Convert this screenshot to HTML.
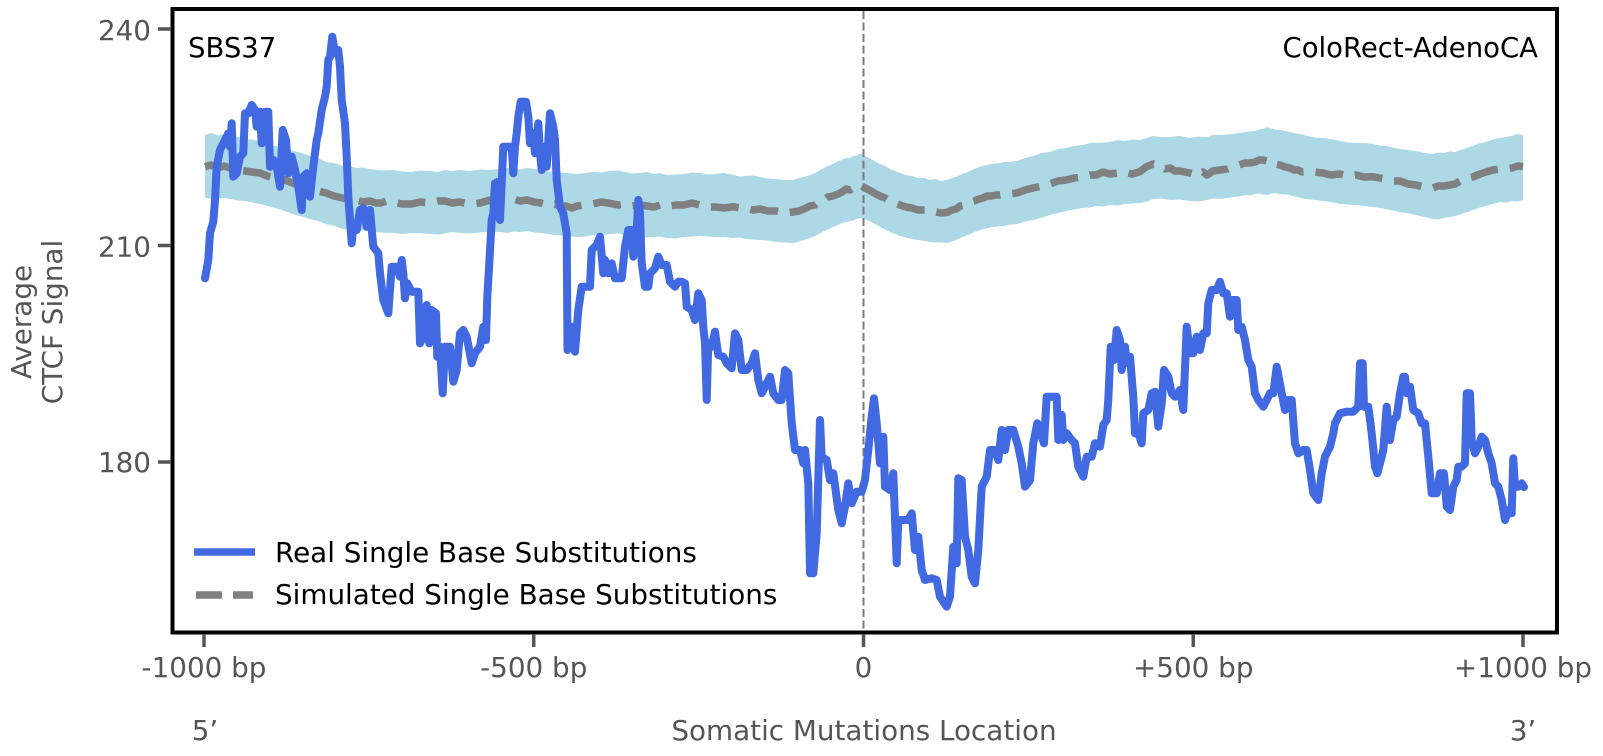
<!DOCTYPE html>
<html><head><meta charset="utf-8"><style>
html,body{margin:0;padding:0;background:#fff;}
svg{display:block;}
text{font-family:"DejaVu Sans","Liberation Sans",sans-serif;}
</style></head><body>
<svg width="1603" height="756" viewBox="0 0 1603 756" xmlns="http://www.w3.org/2000/svg">
<rect x="0" y="0" width="1603" height="756" fill="#fff"/>
<!-- band -->
<polygon fill="#ADD8E6" points="205,134.7 212,133 218,135.5 224,134 230,136 238,137 245,139 252,139.5 260,141 268,143 275,146 282,147 290,150 300,152.5 310,156 318,158 326,162 334,163 343,166 350,166 356,168 363,167.5 370,169 381,170.5 393,170 402,171.5 411,172 420,170.5 430,171 438,172 445,170 452,171 460,170 470,171 480,169.5 490,170 500,169 507,168 514,168 520,169.5 527,168 534,169 541,170 548,171.5 555,172 566,173 577,174 585,173 593,172 601,172.5 610,171 618,170.5 625,172 632,173.5 640,173 647,172 654,174 660,173 667,175 676,174.5 684,174 692,172.5 700,173 708,174.5 716,174 724,173 733,175 740,176.5 746,176 753,175.5 760,177 768,178.5 776,179 785,180 793,180 799,178 804,177 810,175 815,173 820,170 824,168 828,166 833,164 838,161 842,160 846,158 850,158 853,156 856,156 860,153.5 863,155 867,157 871,159 876,162 880,164 885,166 890,169 895,171 900,173 906,175 912,176 918,178 925,178 930,180 936,179 941,181 947,180 952,178 956,177 960,175 965,173 970,171 974,169 979,167 983,166 987,165 991,164 996,163.5 1000,163 1004,162 1008,162 1012,161.5 1017,161 1025,158 1033,156 1042,153 1050,152 1058,149 1066,148 1074,146 1083,145 1090,143 1096,143 1103,142.5 1110,142 1118,140 1125,141 1132,139.5 1140,140 1147,138 1153,136 1161,137 1170,137 1180,136 1190,138 1198,136.5 1207,137 1213,135 1220,135 1227,134.5 1233,134 1239,133 1245,132 1250,131.5 1255,131 1259,129.5 1263,129 1267,127 1270,128 1275,129.5 1280,130 1285,131 1290,132 1294,133 1298,134 1302,134.5 1307,136 1315,137.5 1323,138 1331,139 1340,141 1348,142.5 1356,143 1364,143 1373,144 1380,145.5 1386,146 1393,147.5 1400,149 1408,150 1416,151 1424,153 1433,154 1438,152.5 1444,153 1450,151.5 1455,152 1460,150 1464,149 1468,147.5 1473,146 1480,143 1486,142 1493,139.5 1500,138 1506,137 1512,136 1518,134 1523,135 1523,200 1518,201.5 1512,201 1506,202.5 1500,202 1493,204 1486,206 1480,207.5 1473,210 1468,212 1464,213 1460,214.5 1455,216 1450,217 1444,218 1438,219.5 1433,219 1424,217 1416,215 1408,213.5 1400,212 1393,210.5 1386,209 1380,208 1373,207 1364,206 1356,205 1348,204.5 1340,204 1331,202 1323,201 1315,200 1307,199 1302,198.5 1298,197 1294,196.5 1290,195 1285,194.5 1280,194 1275,193 1270,194 1267,195 1263,194.5 1259,193.5 1255,194 1250,195.5 1245,195 1239,196.5 1233,197 1227,198 1220,199 1213,198.5 1207,200 1198,201.5 1190,201 1180,199.5 1170,200 1161,198.5 1153,199 1147,201.5 1140,203 1132,203.5 1125,204 1118,205.5 1110,205 1103,206.5 1096,206 1090,207.5 1083,208 1074,209.5 1066,211 1058,213 1050,215 1042,217.5 1033,220 1025,221.5 1017,224 1012,224.5 1008,225 1004,226 1000,226 996,227 991,227 987,228.5 983,229 979,230.5 974,232 970,234 965,236 960,238 956,240 952,241.5 947,243 941,242.5 936,242.5 930,242 925,241 918,240 912,239 906,237.5 900,236 895,234 890,232 885,229.5 880,227 876,224.5 871,222 867,220 863,218 860,218.5 856,219 853,220.5 850,221 846,222 842,223 838,225 833,227 828,229.5 824,231 820,233.5 815,236 810,238 804,240 799,241.5 793,243 785,242.5 776,242 768,240.5 760,240 753,239.5 746,239 740,237.5 733,238 724,237 716,237 708,236.5 700,236 692,236.5 684,237 676,238.5 667,238 660,236.5 654,237 647,237.5 640,236 632,236.5 625,235 618,233.5 610,234 601,235.5 593,235 585,236.5 577,237 566,236 555,235 548,234 541,233 534,232.5 527,231 520,232 514,231.5 507,233 500,232 490,231.5 480,232.5 470,233.5 460,233 452,232 445,233.5 438,234.5 430,234 420,233 411,233 402,234 393,233 381,232.5 370,232 363,230.5 356,230 350,229.5 343,229 334,226 326,224 318,221 310,219 300,216 290,213 282,210 275,208 268,206 260,204 252,202.5 245,201 238,200.5 230,199 224,198 218,198 212,199 205,197.7"/>
<!-- simulated dashed line -->
<polyline fill="none" stroke="#808080" stroke-width="7.5" stroke-dasharray="28 12" stroke-linejoin="round" points="205,166.7 211,165 218,168 224,166 230,168 237,170 245,171 252,172 260,173 267,176 275,178 282,179 290,182 295,184 300,185 305,186 310,188 318,191 326,193 334,196 343,198 350,199 356,200 363,202 370,201 376,203 381,203 387,201 393,202 402,204 411,204 420,202 430,203 438,201 445,201 452,203 460,202 470,204 480,203 490,200 500,201 507,199 514,199 520,201 527,200 534,202 541,203 548,205 555,204 560,206 566,206 572,208 577,206 585,205 593,204 601,202 610,203.3 618,205 625,204 632,206 640,205 647,206 654,207 660,205 667,206.7 676,205 684,205 692,203 700,205 708,207 716,207 724,208 733,206.7 740,208 746,208 753,210 760,209 768,211 776,211 785,213 793,212 799,211 804,209 810,206 815,205 820,201 824,200 828,197 833,196 838,194 842,192 846,189 850,190 853,188 856,188 860,185 863,186.7 867,189 871,191 876,194 880,196 885,198 890,201 895,203 900,205 906,207 912,208 918,210 925,210 930,212 936,212 941,213 947,212.5 952,210 956,209 960,206 965,205 970,202 974,201 979,199 983,198 987,196 991,196 996,195 1000,195 1008,194 1017,193 1025,190 1033,188 1042,186 1050,184 1058,181 1066,180 1074,178 1083,177 1090,175 1096,175 1103,172 1110,174 1118,173 1125,172 1132,174 1140,171.7 1146,167 1153,164 1160,166 1165,169 1170,168 1175,171 1180,171 1185,172 1190,173 1198,175 1203,172 1207,175 1213,171 1220,170 1227,169 1233,167 1239,165 1245,163 1250,163 1255,162 1259,160 1263,160 1267,161 1270,160 1275,164 1280,165 1285,167 1290,168 1294,170 1298,170 1302,172 1307,171.7 1315,172 1323,173 1331,175 1340,174 1348,176 1356,175 1364,177 1373,176.7 1380,178 1386,179 1393,181 1400,181 1408,184 1416,185 1424,187 1433,188 1438,186 1444,186 1450,185 1455,184 1460,181 1464,180 1468,178 1473,177 1480,174 1486,172 1493,170 1500,169 1506,169 1512,168 1518,166 1523,166.7"/>
<!-- vertical line at 0 -->
<line x1="863.5" y1="11" x2="863.5" y2="631" stroke="#7a7a7a" stroke-width="2" stroke-dasharray="8 3.5"/>
<!-- real line -->
<polyline fill="none" stroke="#4169E1" stroke-width="8" stroke-linejoin="round" stroke-linecap="round" points="205,278.3 208.3,260 210,233.3 213.3,221.7 215,200 216.7,166.7 220,150 225,140 228.3,133.3 230,146.7 231.7,123.3 233.3,176.7 236.7,173.3 240,156.7 243.3,153.3 245,113.3 248.3,113.3 251.7,105 255,110 256.7,126.7 260,111.7 261.7,143.3 265,111.7 268.3,111.7 270,166.7 273.3,160 276.7,166.7 280,186.7 282.7,130 286,140 288.3,173.3 291.7,156.7 295,170 298.3,186.7 301.7,210 303.3,176.7 306.7,173.3 310,196.7 313.3,166.7 316.7,140 318.3,133.3 321.7,110 325,96.7 326.7,86.7 328.3,60 330,56.7 332.3,36.7 335,53.3 338.3,50 340,66.7 341.7,100 345,123.3 346.7,156.7 348.3,196.7 351.7,243.3 353.3,226.7 356.7,230 360,210 363.3,208.3 366.7,226.7 370,210 373.3,246.7 378.3,253.3 380,273.3 383.3,300 388.3,313.3 391.7,266.7 396.7,266.7 400,276.7 401.7,260 403.3,273.3 405,298.3 407.3,283.3 411.7,291.7 418.3,291.7 420,343.3 423.3,336.7 426.7,305 429.3,343.3 431.7,310 436,313.3 437.3,356.7 440,346.7 442.7,393.3 445,346.7 450,346.7 453.3,381.7 456.7,370 460,333.3 463.3,330 466.7,336.7 471.7,363.3 475,353.3 480,346.7 483.3,326.7 486,340 487.3,296.7 489.3,263.3 491.7,220 493.3,213.3 495,183.3 498.3,181.7 500,220 501.7,183.3 503.3,146.7 508.3,146.7 511.7,146.7 513.3,173.3 515,146.7 516.7,133.3 518.3,116.7 520.7,101.7 526,101.7 528.3,116.7 530,143.3 533.3,133.3 535,153.3 538.3,123.3 540,153.3 541.7,170 545,146.7 546.7,166.7 550,113.3 553.3,126.7 555,140 556.7,180 560,206.7 563.3,213.3 566.7,233.3 567.5,350 571.7,326.7 575,351.7 578.3,310 581.7,286.7 590,286.7 591.7,250 596.7,245 600,236.7 603.3,273.3 605,260 608.3,273.3 611.7,263.3 615,278.3 621.7,278.3 625,246.7 628.3,230 631.7,230 633.3,256.7 636.7,230 638.3,200 640,213.3 641.7,263.3 645,286.7 648.3,286.7 650,273.3 655,268.3 658.3,256.7 661.7,265 666.7,265 670,281.7 675,286.7 678.3,281.7 681.7,281.7 685,283.3 686.7,306.7 691.7,310 695,320 698.3,293.3 701.7,300 703.3,326.7 705,343.3 706.7,400 708.3,343.3 711.7,346.7 715,331.7 718.3,355 723.3,356.7 726.7,363.3 731.7,368.3 735,333.3 738.3,340 741.7,370 746.7,370 751.7,363.3 755,353.3 758.3,380 761.7,393.3 766.7,383.3 770,376.7 773.3,393.3 778.3,400 781.7,400 785,370 788.3,373.3 791.7,423.3 795,450 800,450 803.3,463.3 805,450 808.3,483.3 810,573.3 813.3,573.3 816.7,533.3 820,420 821.7,456.7 826.7,460 830,480 833.3,473.3 838.3,510 841.7,523.3 845,506.7 848.3,483.3 851.7,503.3 856.7,491.7 861.7,491.7 865,480 868.3,450 871.7,416.7 874,398.3 876.7,423.3 880,463.3 883.3,436.7 885,486.7 890,490 893.3,473.3 896.7,563.3 898.3,520 908.3,520 911.7,513.3 915,550 918.3,536.7 921.7,570 925,580 931.7,578.3 936.7,580 940,596.7 946.7,606.7 950,596.7 953.3,546.7 956.7,563.3 958.3,478.3 961.7,480 965,536.7 968.3,550 971.7,576.7 975,583.3 978.3,550 981.7,486.7 986.7,476.7 990,450 995,450 998.3,460 1001.7,430 1005,450 1008.3,430 1013.3,430 1018.3,446.7 1021.7,463.3 1025,486.7 1030,480 1033.3,443.3 1037.3,423.3 1041.7,436.7 1044,443.3 1046.7,396.7 1056.7,396.7 1058.3,440 1061.7,415 1063.3,440 1066.7,433.3 1071.7,440 1075,443.3 1078.3,466.7 1083.3,476.7 1086.7,456.7 1091.7,456.7 1095,443.3 1100,446.7 1103.3,425 1106.7,420 1108.3,400 1110.7,346.7 1114,360 1116.7,330 1120,340 1121.7,370 1125,346.7 1126.7,363.3 1130,356.7 1133.3,396.7 1135,433.3 1138.3,433.3 1141.7,443.3 1143.3,413.3 1148.3,410 1151.7,393.3 1155,391.7 1158.3,426.7 1161.7,403.3 1164,370 1168.3,376.7 1171.7,393.3 1175,396.7 1180,390 1183.3,410 1186.7,326.7 1190,353.3 1193.3,353.3 1196.7,336.7 1200,350 1203.3,333.3 1206.7,333.3 1208.3,303.3 1211.7,290 1216.7,290 1220,281.7 1223.3,293.3 1226.7,293.3 1230,316.7 1231.7,300 1236.7,300 1238.3,330 1241.7,326.7 1245,340 1248.3,360 1251.7,366.7 1255,393.3 1258.3,400 1263.3,406.7 1266.7,400 1270,393.3 1273.3,393.3 1276.7,366.7 1279.3,380 1281.7,393.3 1285,410 1288.3,400 1291.7,400 1295,443.3 1298.3,453.3 1303.3,450 1306.7,450 1310,470 1313.3,493.3 1318.3,500 1321.7,473.3 1325,456.7 1330,446.7 1333.3,433.3 1335,423.3 1340,413.3 1346.7,411.7 1353.3,411.7 1358.3,406.7 1360,363.3 1362.7,363.3 1364,406.7 1368.3,406.7 1371.7,433.3 1375,466.7 1377.3,473.3 1380,463.3 1383.3,450 1386.7,406.7 1390,440 1393.3,420 1396.7,416.7 1400,393.3 1403.3,376.7 1405,376.7 1406.7,393.3 1410,386.7 1413.3,410 1418.3,413.3 1421.7,423.3 1425,423.3 1428.3,456.7 1431.7,493.3 1436.7,493.3 1440,473.3 1444,473.3 1446.7,506.7 1450,510 1453.3,486.7 1456.7,480 1458.3,466.7 1461.7,466.7 1465,463.3 1466.7,393.3 1470,393.3 1471.7,440 1475,453.3 1478.3,446.7 1481.7,436.7 1485,440 1488.3,453.3 1491.7,463.3 1495,483.3 1498.3,486.7 1501.7,500 1505,520 1508.3,510 1511.7,513.3 1513.3,458.3 1515,486.7 1518.3,486.7 1521.7,483.3 1524,487"/>
<!-- frame -->
<rect x="172.5" y="9" width="1384.5" height="623.5" fill="none" stroke="#000" stroke-width="4"/>
<!-- ticks -->
<g stroke="#555" stroke-width="3.5">
<line x1="158" y1="29" x2="171" y2="29"/>
<line x1="158" y1="245.5" x2="171" y2="245.5"/>
<line x1="158" y1="462" x2="171" y2="462"/>
<line x1="204" y1="634" x2="204" y2="647"/>
<line x1="533.75" y1="634" x2="533.75" y2="647"/>
<line x1="863.5" y1="634" x2="863.5" y2="647"/>
<line x1="1193.25" y1="634" x2="1193.25" y2="647"/>
<line x1="1523" y1="634" x2="1523" y2="647"/>
</g>
<g fill="#555" font-size="27.8" text-anchor="end">
<text x="151" y="40">240</text>
<text x="151" y="256.5">210</text>
<text x="151" y="472">180</text>
</g>
<g fill="#555" font-size="27.8" text-anchor="middle">
<text x="204" y="677">-1000 bp</text>
<text x="533.75" y="677">-500 bp</text>
<text x="863.5" y="677">0</text>
<text x="1193.25" y="677">+500 bp</text>
<text x="1523" y="677">+1000 bp</text>
<text x="205" y="740">5’</text>
<text x="864" y="740">Somatic Mutations Location</text>
<text x="1523" y="740">3’</text>
<text transform="translate(31,322) rotate(-90)">Average</text>
<text transform="translate(62,322) rotate(-90)">CTCF Signal</text>
</g>
<text x="188" y="57" font-size="27.5" fill="#000">SBS37</text>
<text x="1538" y="57" font-size="27.5" fill="#000" text-anchor="end">ColoRect-AdenoCA</text>
<!-- legend -->
<line x1="194" y1="552" x2="255" y2="552" stroke="#4169E1" stroke-width="7.5"/>
<line x1="196" y1="595" x2="253" y2="595" stroke="#808080" stroke-width="7.5" stroke-dasharray="26 11"/>
<text x="275" y="562" font-size="27.8" fill="#000">Real Single Base Substitutions</text>
<text x="275" y="604" font-size="27.8" fill="#000">Simulated Single Base Substitutions</text>
</svg>
</body></html>
